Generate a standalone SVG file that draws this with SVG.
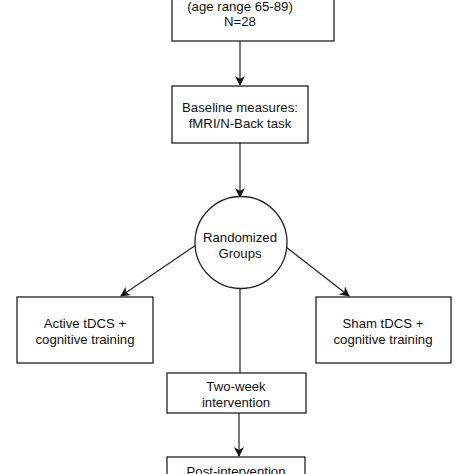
<svg xmlns="http://www.w3.org/2000/svg" width="474" height="474" viewBox="0 0 474 474">
<defs>
<style>
.box{fill:#fff;stroke:#222;stroke-width:1.3}
.t{font-family:"Liberation Sans",Arial,sans-serif;font-size:13.2px;fill:#111;text-anchor:middle}
.c{fill:none;stroke:#222;stroke-width:1.2}
</style>
<marker id="ah" markerWidth="10" markerHeight="10" refX="9" refY="5" orient="auto" markerUnits="userSpaceOnUse">
<path d="M0,0 L10,5 L0,10 L3,5 Z" fill="#111"/>
</marker>
</defs>
<rect width="474" height="474" fill="#fff"/>
<g id="connectors">
<line class="c" x1="240" y1="41" x2="240" y2="85" marker-end="url(#ah)"/>
<line class="c" x1="240" y1="143" x2="240" y2="197" marker-end="url(#ah)"/>
<line class="c" x1="196" y1="245" x2="121" y2="296" marker-end="url(#ah)"/>
<line class="c" x1="286" y1="247" x2="349" y2="296" marker-end="url(#ah)"/>
<line class="c" x1="240" y1="288" x2="240" y2="373"/>
<line class="c" x1="239" y1="413" x2="239" y2="456" marker-end="url(#ah)"/>
</g>
<g id="participants">
<rect class="box" x="172" y="-20" width="162" height="61"/>
<text class="t" x="240" y="11">(age range 65-89)</text>
<text class="t" x="240" y="26">N=28</text>
</g>
<g id="baseline">
<rect class="box" x="172" y="86" width="136" height="57"/>
<text class="t" x="240" y="112">Baseline measures:</text>
<text class="t" x="240" y="128">fMRI/N-Back task</text>
</g>
<g id="randomized">
<circle class="box" cx="241" cy="242.5" r="46"/>
<text class="t" x="240" y="242">Randomized</text>
<text class="t" x="240" y="258">Groups</text>
</g>
<g id="active">
<rect class="box" x="17" y="297" width="136" height="66"/>
<text class="t" x="85" y="328">Active tDCS +</text>
<text class="t" x="85" y="344">cognitive training</text>
</g>
<g id="sham">
<rect class="box" x="316" y="297" width="135" height="66"/>
<text class="t" x="383" y="328">Sham tDCS +</text>
<text class="t" x="383" y="344">cognitive training</text>
</g>
<g id="intervention">
<rect class="box" x="167" y="373" width="139" height="40"/>
<text class="t" x="236" y="391">Two-week</text>
<text class="t" x="236" y="407">intervention</text>
</g>
<g id="post">
<rect class="box" x="167" y="457" width="138" height="40"/>
<text class="t" x="236" y="476">Post-intervention</text>
</g>
</svg>
